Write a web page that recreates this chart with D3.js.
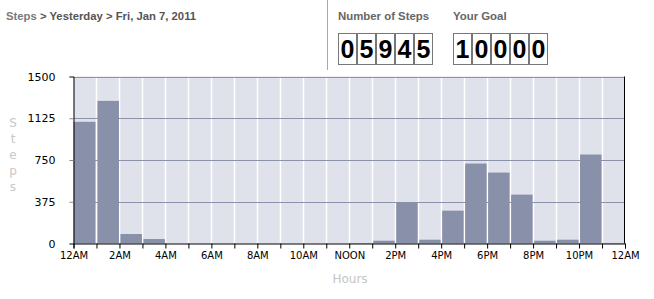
<!DOCTYPE html>
<html><head><meta charset="utf-8">
<script src="https://cdn.jsdelivr.net/npm/d3@7"></script>
<style>
html,body{margin:0;padding:0;background:#fff;}
svg{display:block;}
</style></head>
<body>
<svg id="chart" width="654" height="299"></svg>
<script>
const hours = d3.range(24);
const steps = [1093, 1281, 85, 40, 0, 0, 0, 0, 0, 0, 0, 0, 4, 25, 370, 34, 295, 718, 637, 439, 25, 34, 799, 5];
const yTicks = [0, 375, 750, 1125, 1500];
const xTickLabels = ["12AM","2AM","4AM","6AM","8AM","10AM","NOON","2PM","4PM","6PM","8PM","10PM","12AM"];
const stepCount = "05945";
const goal = "10000";

const svg = d3.select("#chart");
const m = {left: 73.5, right: 625, top: 76.5, bottom: 243.5};
const x = d3.scaleLinear().domain([0, 24]).range([m.left, m.right]);
const y = d3.scaleLinear().domain([0, 1500]).range([m.bottom, m.top]);

// header
const hdr = svg.append("text").attr("x", 6).attr("y", 20)
  .attr("font-family", "Liberation Sans, Arial, sans-serif").attr("font-size", 11.3).attr("font-weight", "bold");
hdr.append("tspan").attr("fill", "#7a7a7a").text("Steps ");
hdr.append("tspan").attr("fill", "#555").text("> Yesterday > Fri, Jan 7, 2011");

svg.append("line").attr("x1", 327.5).attr("x2", 327.5).attr("y1", 0).attr("y2", 70).attr("stroke", "#aaa");

svg.append("text").attr("x", 338).attr("y", 20).attr("fill", "#666").attr("font-weight", "bold")
  .attr("font-family", "Liberation Sans, Arial, sans-serif").attr("font-size", 11.4).text("Number of Steps");
svg.append("text").attr("x", 453).attr("y", 20).attr("fill", "#666").attr("font-weight", "bold")
  .attr("font-family", "Liberation Sans, Arial, sans-serif").attr("font-size", 11.4).text("Your Goal");

function digits(str, x0) {
  const g = svg.append("g");
  str.split("").forEach((d, i) => {
    g.append("rect").attr("x", x0 + i * 19 + 0.5).attr("y", 33.5).attr("width", 18).attr("height", 31)
      .attr("fill", "#fff").attr("stroke", "#777");
    g.append("text").attr("x", x0 + i * 19 + 9.5).attr("y", 57.5).attr("text-anchor", "middle")
      .attr("font-family", "Liberation Sans, Arial, sans-serif").attr("font-weight", "bold")
      .attr("font-size", 25).attr("fill", "#000").text(d);
  });
}
digits(stepCount, 338);
digits(goal, 453);

// plot background
svg.append("rect").attr("x", m.left).attr("y", m.top).attr("width", m.right - m.left)
  .attr("height", m.bottom - m.top).attr("fill", "#dfe2ea");

// vertical white grid
svg.append("g").selectAll("line").data(d3.range(1, 24)).join("line")
  .attr("x1", d => Math.round(x(d)) + 0.5).attr("x2", d => Math.round(x(d)) + 0.5)
  .attr("y1", m.top).attr("y2", m.bottom).attr("stroke", "#fff").attr("stroke-width", 1.5);

// horizontal grid
svg.append("g").selectAll("line").data(yTicks.filter(d => d > 0)).join("line")
  .attr("x1", m.left).attr("x2", m.right)
  .attr("y1", d => Math.round(y(d)) + 0.5).attr("y2", d => Math.round(y(d)) + 0.5)
  .attr("stroke", "#8c92aa").attr("stroke-width", 1);

// bars
svg.append("g").selectAll("rect").data(hours).join("rect")
  .attr("x", d => x(d) + (d === 0 ? 0 : 1))
  .attr("width", d => x(d + 1) - x(d) - (d === 0 ? 1 : 1.5))
  .attr("y", d => y(steps[d]))
  .attr("height", d => y(0) - y(steps[d]))
  .attr("fill", "#8890aa");

// y axis
const yAxis = d3.axisLeft(y).tickValues(yTicks).tickSize(4).tickPadding(14).tickFormat(d3.format("d"));
const ya = svg.append("g").attr("transform", `translate(${m.left},0)`).call(yAxis);
ya.select(".domain").attr("stroke", "#000");
ya.selectAll(".tick line").attr("stroke", "#888");
ya.selectAll("text").attr("font-family", "DejaVu Sans, Verdana, sans-serif").attr("font-size", 11).attr("fill", "#000");

// right border
svg.append("line").attr("x1", m.right - 0.5).attr("x2", m.right - 0.5).attr("y1", m.top).attr("y2", m.bottom).attr("stroke", "#000");

// x axis
const xAxis = d3.axisBottom(x).tickValues(d3.range(0, 25)).tickSize(5).tickPadding(3)
  .tickFormat(d => d % 2 === 0 ? xTickLabels[d / 2] : "");
const xa = svg.append("g").attr("transform", `translate(0,${m.bottom})`).call(xAxis);
xa.select(".domain").attr("stroke", "#000");
xa.selectAll(".tick line").attr("stroke", "#000");
xa.selectAll("text").attr("font-family", "DejaVu Sans, Verdana, sans-serif").attr("font-size", 10).attr("fill", "#000");

// axis titles
svg.append("text").attr("x", 350).attr("y", 283).attr("text-anchor", "middle")
  .attr("font-family", "DejaVu Sans, Verdana, sans-serif").attr("font-size", 12).attr("fill", "#c4c4c4").text("Hours");
const yt = svg.append("text").attr("font-family", "DejaVu Sans, Verdana, sans-serif").attr("font-size", 12)
  .attr("fill", "#c8c8c8").attr("text-anchor", "middle");
"Steps".split("").forEach((c, i) => {
  yt.append("tspan").attr("x", 13).attr("y", 127 + i * 16).text(c);
});
</script>
</body></html>
